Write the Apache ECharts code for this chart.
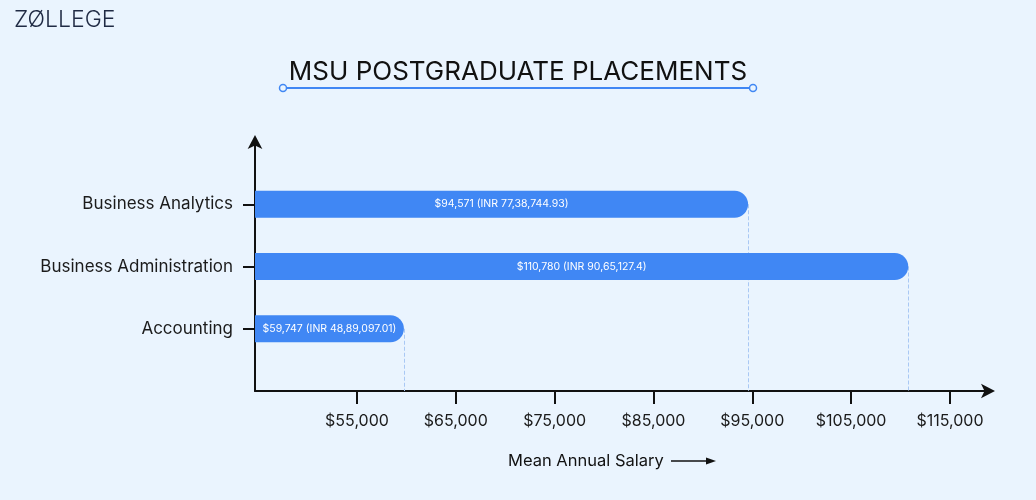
<!DOCTYPE html>
<html lang="en">
<head>
    <meta charset="UTF-8"/>
    <title>MSU Postgraduate Placements</title>
    <script src="https://cdn.jsdelivr.net/npm/echarts@6"></script>
    <style>
        body {
            margin: 0;
            background-color: #eaf4fe;
        }

        #chart {
            width: 1036px;
            height: 500px;
        }
    </style>
</head>
<body>
<div id="chart"></div>
<script>
    const categories = ['Accounting', 'Business Administration', 'Business Analytics'];
    const salaries = [59747, 110780, 94571];
    const inrValues = ['48,89,097.01', '90,65,127.4', '77,38,744.93'];
    const xTickValues = [55000, 65000, 75000, 85000, 95000, 105000, 115000];

    const FONT = 'Inter, sans-serif';
    const BLUE = '#4087f4';

    // blank slot below and above so the bars sit in the middle of the axis
    const yData = [''].concat(categories, [' ']);
    const barData = ['-'].concat(salaries, ['-']);

    const dashLines = salaries.map(function (v, i) {
        return [{coord: [v, i + 1]}, {coord: [v, 0]}];
    });

    const chart = echarts.init(document.getElementById('chart'));
    chart.setOption({
        backgroundColor: '#eaf4fe',
        textStyle: {fontFamily: FONT},
        grid: {left: 255, right: 46, top: 142, bottom: 109, containLabel: false},
        xAxis: {
            type: 'value',
            min: 44680,
            max: 119050,
            axisLine: {
                show: true,
                symbol: ['none', 'arrow'],
                symbolSize: [11, 14],
                symbolOffset: [0, 5],
                lineStyle: {color: '#111', width: 2}
            },
            axisTick: {
                show: true,
                length: 13,
                lineStyle: {color: '#111', width: 2},
                customValues: xTickValues
            },
            axisLabel: {
                customValues: xTickValues,
                margin: 22,
                fontSize: 16,
                color: '#1b1b1b',
                fontFamily: FONT,
                formatter: function (v) {
                    return '$' + v.toLocaleString('en-US');
                }
            },
            splitLine: {show: false}
        },
        yAxis: {
            type: 'category',
            data: yData,
            boundaryGap: false,
            axisLine: {
                show: true,
                symbol: ['none', 'arrow'],
                symbolSize: [11, 14],
                symbolOffset: [0, 7],
                lineStyle: {color: '#111', width: 2}
            },
            axisTick: {
                show: true,
                length: 12,
                lineStyle: {color: '#111', width: 2},
                interval: function (idx, val) {
                    return val.trim() !== '';
                }
            },
            axisLabel: {
                margin: 22,
                fontSize: 17,
                color: '#1b1b1b',
                fontFamily: FONT,
                interval: 0
            }
        },
        series: [{
            type: 'bar',
            data: barData,
            barWidth: 27,
            itemStyle: {color: BLUE, borderRadius: [0, 14, 14, 0]},
            label: {
                show: true,
                position: 'inside',
                color: '#fff',
                fontSize: 10.5,
                fontFamily: FONT,
                formatter: function (p) {
                    const i = p.dataIndex - 1;
                    return '$' + salaries[i].toLocaleString('en-US') + ' (INR ' + inrValues[i] + ')';
                }
            },
            markLine: {
                z: 1,
                silent: true,
                symbol: 'none',
                label: {show: false},
                lineStyle: {type: 'dashed', color: '#a9c8f4', width: 1},
                data: dashLines
            }
        }],
        graphic: [
            {
                type: 'text', left: 14, top: 9,
                style: {text: 'ZØLLEGE', font: '300 23px ' + FONT, fill: '#1f2a44'}
            },
            {
                type: 'text', x: 518, y: 72,
                style: {
                    text: 'MSU POSTGRADUATE PLACEMENTS', font: '400 26px ' + FONT,
                    fill: '#111', align: 'center', verticalAlign: 'middle'
                }
            },
            {
                type: 'line', shape: {x1: 283, y1: 88, x2: 753, y2: 88},
                style: {stroke: BLUE, lineWidth: 2}
            },
            {
                type: 'circle', shape: {cx: 283, cy: 88, r: 3.5},
                style: {fill: '#eaf4fe', stroke: BLUE, lineWidth: 1.5}
            },
            {
                type: 'circle', shape: {cx: 753, cy: 88, r: 3.5},
                style: {fill: '#eaf4fe', stroke: BLUE, lineWidth: 1.5}
            },
            {
                type: 'text', x: 508, y: 461,
                style: {
                    text: 'Mean Annual Salary', font: '400 16.5px ' + FONT,
                    fill: '#111', verticalAlign: 'middle'
                }
            },
            {
                type: 'line', shape: {x1: 671, y1: 461, x2: 710, y2: 461},
                style: {stroke: '#111', lineWidth: 1.5}
            },
            {
                type: 'polygon', shape: {points: [[716, 461], [706, 457.5], [706, 464.5]]},
                style: {fill: '#111'}
            }
        ]
    });
</script>
</body>
</html>
